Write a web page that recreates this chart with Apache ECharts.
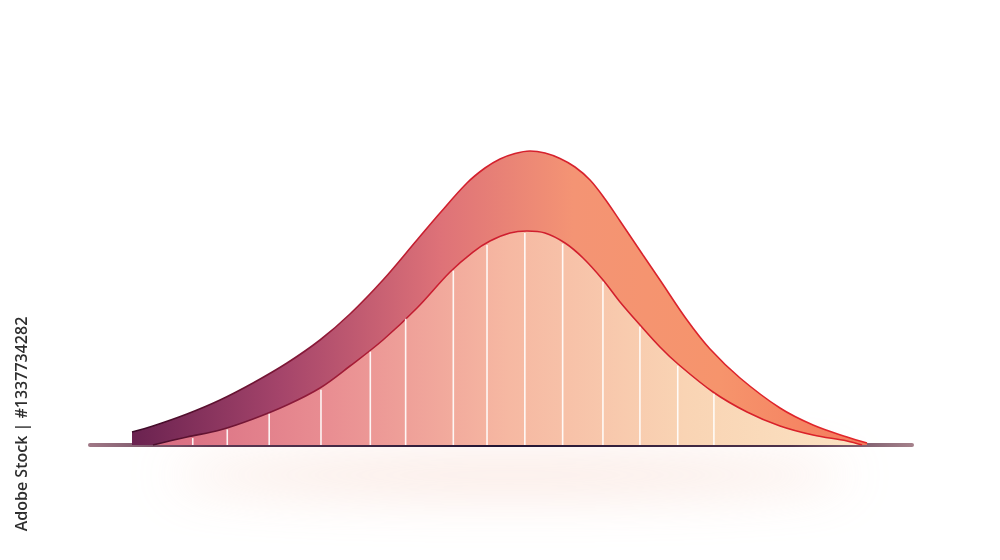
<!DOCTYPE html>
<html>
<head>
<meta charset="utf-8">
<script src="https://cdn.jsdelivr.net/npm/echarts@6/dist/echarts.min.js"></script>
<style>
html,body{margin:0;padding:0;background:#ffffff;}
#chart{width:1000px;height:560px;}
</style>
</head>
<body>
<div id="chart"></div>
<script>
// Outer bell curve (x, y)
var outerCurve = [
  [5.11, 4.33], [7.66, 6.33], [11.80, 10.33], [15.82, 15.0], [19.83, 20.67],
  [23.97, 27.33], [27.98, 35.0], [31.63, 43.67], [35.64, 55.0], [39.78, 68.33],
  [42.58, 77.33], [45.86, 87.33], [48.05, 92.33], [49.88, 95.33], [51.70, 97.17],
  [53.53, 98.0], [55.35, 97.33], [57.18, 95.5], [59.00, 92.67], [60.83, 88.33],
  [62.65, 82.0], [64.48, 74.67], [67.27, 63.33], [69.34, 55.0], [72.63, 41.67],
  [75.43, 32.0], [79.08, 22.33], [83.94, 12.33], [87.96, 6.67], [92.09, 2.67],
  [94.53, 0.67]
];
// Inner bell curve (x, y)
var innerCurve = [
  [7.66, 0.0], [11.80, 2.67], [15.82, 5.0], [19.83, 8.67], [23.97, 13.33],
  [27.98, 19.0], [31.63, 26.33], [35.64, 35.0], [39.78, 45.67], [43.80, 57.67],
  [46.59, 64.33], [48.66, 68.0], [51.09, 70.67], [53.16, 71.33], [55.35, 70.67],
  [57.79, 67.33], [59.98, 62.33], [62.41, 55.0], [64.48, 47.67], [66.91, 40.0],
  [69.34, 32.67], [71.53, 27.0], [75.79, 17.67], [79.93, 11.0], [83.94, 6.33],
  [87.96, 3.33], [92.09, 1.33], [93.92, 0.0]
];
// White divider lines under the inner curve (x, height)
var dividers = [
  [12.5, 2.3], [16.7, 5.2], [21.8, 10.4], [28.1, 18.4], [34.1, 31.1], [38.4, 42.1],
  [44.2, 58.1], [48.3, 66.7], [52.9, 70.7], [57.5, 67.1], [62.4, 54.4], [66.9, 39.4],
  [71.5, 26.4], [75.9, 17.1]
];
var sideLabel = 'Adobe Stock | #1337734282';

var G = echarts.graphic.LinearGradient;
var chart = echarts.init(document.getElementById('chart'), null, {renderer: 'canvas'});
chart.setOption({
  backgroundColor: '#ffffff',
  animation: false,
  grid: {left: 90, right: 88, top: 145, bottom: 115},
  xAxis: {
    type: 'value', min: 0, max: 100, offset: 3,
    axisLine: {show: true, lineStyle: {width: 4, cap: 'round', color: new G(0, 0, 1, 0, [
      {offset: 0, color: '#a07886'}, {offset: 0.15, color: '#5e3a54'},
      {offset: 0.5, color: '#221533'}, {offset: 0.85, color: '#4e324a'},
      {offset: 1, color: '#a6828c'}
    ])}},
    axisTick: {show: false}, axisLabel: {show: false}, splitLine: {show: false}
  },
  yAxis: {
    type: 'value', min: 0, max: 100, show: false,
    splitLine: {show: false}
  },
  graphic: [
    {
      // soft glow under the baseline (only its shadow is on screen)
      type: 'ellipse', z: -10, silent: true,
      shape: {cx: 510, cy: -1525, rx: 340, ry: 18},
      style: {fill: '#f5cfc2', shadowBlur: 50, shadowOffsetX: 0, shadowOffsetY: 2000,
        shadowColor: 'rgba(245,200,185,0.45)'}
    },
    {
      type: 'text', x: 22, y: 424, rotation: Math.PI / 2,
      style: {text: sideLabel, fill: '#2e2e2e', font: '600 16px "Open Sans"',
        textAlign: 'center', textVerticalAlign: 'middle'}
    }
  ],
  series: [
    {
      type: 'line', data: outerCurve, smooth: 0.35, showSymbol: false, z: 2,
      lineStyle: {width: 1.6, color: new G(0, 0, 1, 0, [
        {offset: 0, color: '#3a0a28'}, {offset: 0.25, color: '#8a1a3a'},
        {offset: 0.42, color: '#d2202e'}, {offset: 1, color: '#e2262a'}
      ])},
      areaStyle: {opacity: 1, color: new G(0, 0, 1, 0, [
        {offset: 0, color: '#6a2250'}, {offset: 0.2, color: '#a4446a'},
        {offset: 0.42, color: '#de7278'}, {offset: 0.6, color: '#f49474'},
        {offset: 0.8, color: '#f6946c'}, {offset: 1, color: '#f47a5c'}
      ])}
    },
    {
      type: 'line', data: innerCurve, smooth: 0.35, showSymbol: false, z: 3,
      lineStyle: {width: 1.6, color: new G(0, 0, 1, 0, [
        {offset: 0, color: '#4a0e2c'}, {offset: 0.2, color: '#8a1a3a'},
        {offset: 0.4, color: '#cc1e30'}, {offset: 1, color: '#dc2228'}
      ])},
      areaStyle: {opacity: 1, color: new G(0, 0, 1, 0, [
        {offset: 0, color: '#d86c82'}, {offset: 0.25, color: '#e98e92'},
        {offset: 0.5, color: '#f6b8a2'}, {offset: 0.75, color: '#f9d4b4'},
        {offset: 1, color: '#fbe2c2'}
      ])}
    },
    {
      type: 'bar', data: dividers, barWidth: 1.6, z: 4, silent: true,
      itemStyle: {color: 'rgba(255,255,255,0.9)'}
    }
  ]
});
</script>
</body>
</html>
